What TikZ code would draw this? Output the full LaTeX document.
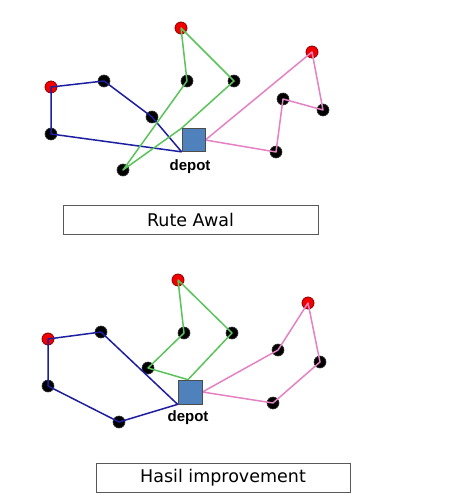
\documentclass[tikz,border=0pt]{standalone}
\usepackage{fontspec}
\setmainfont{DejaVu Sans}
\newfontfamily\depotfont{Liberation Sans}
\definecolor{depotblue}{RGB}{79,129,189}
\definecolor{routeblue}{RGB}{30,30,160}
\definecolor{routegreen}{RGB}{90,195,90}
\definecolor{routepink}{RGB}{228,130,195}
\begin{document}
\begin{tikzpicture}[x=1pt,y=-1pt,
  bdot/.style={circle,fill=black,draw=black!80,line width=0.6pt,minimum size=12pt,inner sep=0pt},
  rdot/.style={circle,fill=red!95!black,draw=red!55!black,line width=0.8pt,minimum size=12pt,inner sep=0pt},
  depotbox/.style={rectangle,fill=depotblue,draw=black!70,line width=0.7pt,minimum size=23pt,inner sep=0pt},
  depotlabel/.style={font=\depotfont\bfseries\fontsize{15}{15}\selectfont,inner sep=0pt},
  blueroute/.style={draw=routeblue,line width=1.5pt,line join=round},
  greenroute/.style={draw=routegreen,line width=1.5pt,line join=round},
  pinkroute/.style={draw=routepink,line width=1.5pt,line join=round},
  titlebox/.style={draw=black!65,line width=0.8pt,fill=white,inner sep=0pt,font=\fontsize{17.5}{17.5}\selectfont}
]
\useasboundingbox (0,0) rectangle (474,500);
\fill[white] (0,0) rectangle (474,500);

% ---------- top diagram ----------
\node[rdot] (tg0) at (181,28) {};
\node[bdot] (tg1) at (187,81) {};
\node[bdot] (tg2) at (234,81) {};
\node[bdot] (tg3) at (123,170) {};
\node[rdot] (tb0) at (51,87) {};
\node[bdot] (tb1) at (104,81) {};
\node[bdot] (tb2) at (152,117) {};
\node[bdot] (tb3) at (51,134) {};
\node[rdot] (tp0) at (312,52) {};
\node[bdot] (tp1) at (283,99) {};
\node[bdot] (tp2) at (323,110) {};
\node[bdot] (tp3) at (276,152) {};
\node[depotbox] (d1) at (193.5,140) {};
\node[depotlabel] (l1) at (190,167) {depot};

\draw[blueroute] (d1.south west) -- (tb2.center) -- (tb1.center) -- (tb0.center) -- (tb3.center) -- (d1.south west);
\draw[greenroute] (d1.north west) -- (tg3.center) -- (tg1.center) -- (tg0.center) -- (tg2.center) -- (d1.north west);
\draw[pinkroute] (d1.east) -- (tp0.center) -- (tp2.center) -- (tp1.center) -- (tp3.center) -- (d1.east);
\node[depotbox] at (d1) {};

\node[titlebox,minimum width=255pt,minimum height=29pt] (t1) at (190.5,219.5) {Rute Awal};

% ---------- bottom diagram ----------
\node[rdot] (bg0) at (178,280) {};
\node[bdot] (bg1) at (184,333) {};
\node[bdot] (bg2) at (232,333) {};
\node[bdot] (bg3) at (148,368) {};
\node[rdot] (bb0) at (48,339) {};
\node[bdot] (bb1) at (101,332) {};
\node[bdot] (bb2) at (48,386) {};
\node[bdot] (bb3) at (119,422) {};
\node[rdot] (bp0) at (308,303) {};
\node[bdot] (bp1) at (278,350) {};
\node[bdot] (bp2) at (320,362) {};
\node[bdot] (bp3) at (273,403) {};
\node[depotbox,minimum size=24pt] (d2) at (190,392) {};
\node[depotlabel] (l2) at (188,418) {depot};
\coordinate (d2g) at ([xshift=-2pt]d2.north);

\draw[blueroute] (d2.south west) -- (bb1.center) -- (bb0.center) -- (bb2.center) -- (bb3.center) -- (d2.south west);
\draw[greenroute] (d2g) -- (bg3.center) -- (bg1.center) -- (bg0.center) -- (bg2.center) -- (d2g);
\draw[pinkroute] (d2.east) -- (bp1.center) -- (bp0.center) -- (bp2.center) -- (bp3.center) -- (d2.east);
\node[depotbox,minimum size=24pt] at (d2) {};

\node[titlebox,minimum width=254pt,minimum height=29pt] (t2) at (223,477.5) {Hasil improvement};
\end{tikzpicture}
\end{document}
